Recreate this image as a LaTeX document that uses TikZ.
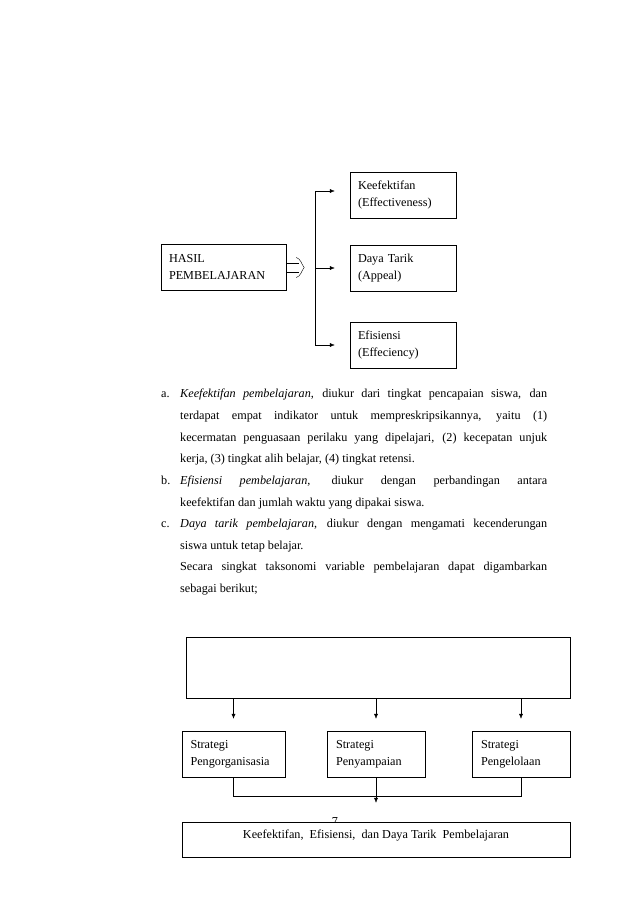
\documentclass[tikz,border=0pt]{standalone}
\usepackage{fontspec}
\setmainfont{Liberation Serif}
\usetikzlibrary{arrows.meta,positioning}

\begin{document}
\begin{tikzpicture}[x=1pt,y=-1pt]
        \tikzset{kotak/.style={draw,rectangle,inner xsep=8pt,inner ysep=0pt,minimum height=46pt,
                align=left,font=\fontsize{12.2}{17}\selectfont},
            teks/.style={inner sep=0pt,text width=386pt,align=justify,
                font=\fontsize{12.2}{21.65}\selectfont},
            panah/.style={-{Latex[length=5pt,width=4pt]}}}
        \useasboundingbox (0,0) rectangle (638,902);
        \node[kotak,text width=109pt] (hasil) at (223.5,267.5) {HASIL\\PEMBELAJARAN};
        \node[kotak,text width=90pt] (keef) at (403,195) {Keefektifan\\(Effectiveness)};
        \node[kotak,text width=90pt] (daya) at (403,268) {Daya Tarik\\(Appeal)};
        \node[kotak,text width=90pt] (efis) at (403,345) {Efisiensi\\(Effeciency)};
        \coordinate (cabang) at (315,268);
        \coordinate (ujungK) at ([xshift=-15pt,yshift=4pt]keef.west);
        \coordinate (ujungD) at ([xshift=-15pt]daya.west);
        \coordinate (ujungE) at ([xshift=-15pt]efis.west);
        \draw ([yshift=4.5pt]hasil.east) -- ++(13,0)
            ([yshift=-4.5pt]hasil.east) -- ++(13,0);
        \draw ([xshift=10pt,yshift=10pt]hasil.east) to[out=-15,in=130] ([xshift=18pt]hasil.east)
            to[out=-130,in=15] ([xshift=10pt,yshift=-10pt]hasil.east);
        \draw (cabang |- ujungK) -- (cabang |- ujungE);
        \foreach \u in {K,D,E}
            \draw[panah] (cabang |- ujung\u) -- (ujung\u);
        \node[teks,anchor=north west] (uraian) at (161,389) {%
            \hangindent=19pt\hangafter=1\noindent\makebox[19pt][l]{a.}\textit{Keefektifan pembelajaran}, diukur dari tingkat pencapaian siswa, dan\linebreak
            terdapat empat indikator untuk mempreskripsikannya, yaitu (1)\linebreak
            kecermatan penguasaan perilaku yang dipelajari, (2) kecepatan unjuk\linebreak
            kerja, (3) tingkat alih belajar, (4) tingkat retensi.\par
            \hangindent=19pt\hangafter=1\noindent\makebox[19pt][l]{b.}\textit{Efisiensi pembelajaran}, diukur dengan perbandingan antara\linebreak
            keefektifan dan jumlah waktu yang dipakai siswa.\par
            \hangindent=19pt\hangafter=1\noindent\makebox[19pt][l]{c.}\textit{Daya tarik pembelajaran}, diukur dengan mengamati kecenderungan\linebreak
            siswa untuk tetap belajar.\par
            \hangindent=19pt\hangafter=0\noindent Secara singkat taksonomi variable pembelajaran dapat digambarkan\linebreak
            sebagai berikut;\par};
        \node[draw,rectangle,minimum width=384pt,minimum height=61pt] (atas) at (378,667.5) {};
        \node[kotak,text width=86pt,inner xsep=8.5pt] (s1) at (233.5,754) {Strategi\\Pengorganisasia};
        \node[kotak,text width=80pt,inner xsep=9pt] (s2) at (376,754) {Strategi\\Penyampaian};
        \node[kotak,text width=80pt,inner xsep=9pt] (s3) at (521,754) {Strategi\\Pengelolaan};
        \node[anchor=base,inner sep=0pt,font=\fontsize{12.2}{14}\selectfont] (halaman) at (335,825) {7};
        \node[draw,rectangle,fill=white,minimum width=388pt,minimum height=35pt,text depth=11.6pt,
            font=\fontsize{12.2}{14}\selectfont] (akhir) at (376,839.5)
            {Keefektifan,\ \ Efisiensi,\ \ dan Daya Tarik\ \ Pembelajaran};
        \foreach \s in {s1,s2,s3}
            \draw[panah] (atas.south -| \s.north) -- ([yshift=12pt]\s.north);
        \draw (s1.south) -- ++(0,19) -| (s3.south);
        \draw[panah] (s2.south) -- ([yshift=19pt]akhir.north -| s2.south);
\end{tikzpicture}
\end{document}
